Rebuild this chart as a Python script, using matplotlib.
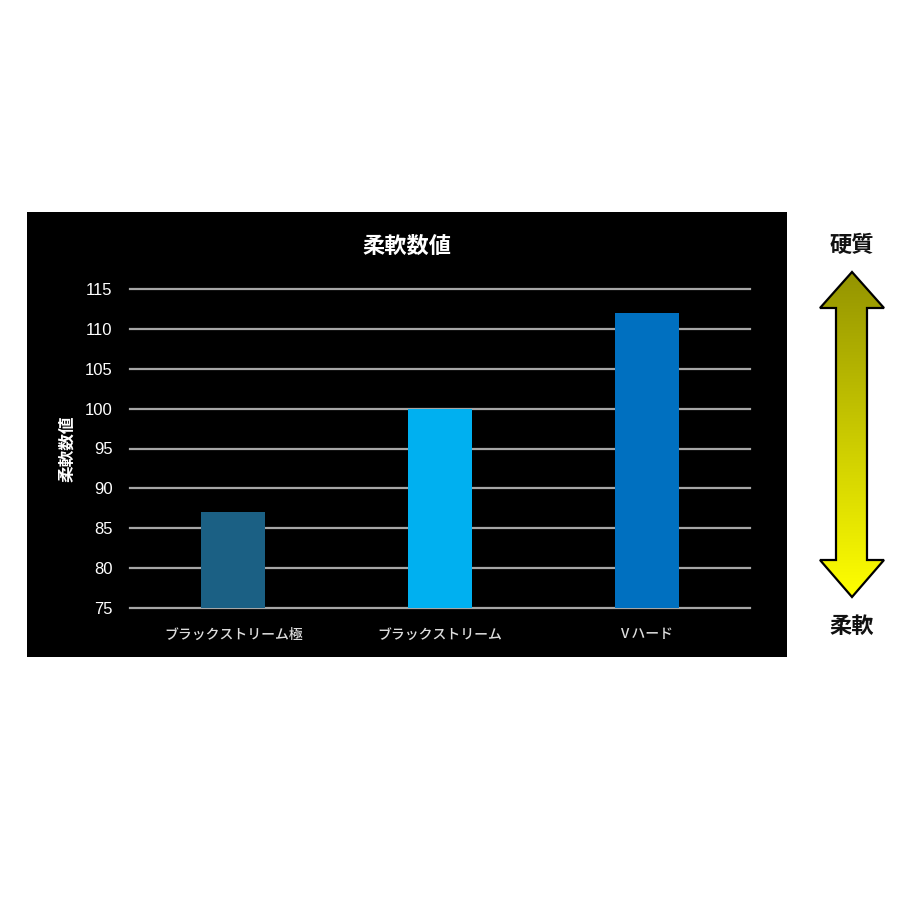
import matplotlib
matplotlib.use('agg')
import matplotlib.pyplot as plt
from matplotlib.patches import Rectangle, Polygon
import numpy as np

plt.rcParams['font.family'] = ['Noto Sans CJK JP', 'DejaVu Sans']

# data
categories = ['ブラックストリーム極', 'ブラックストリーム', 'V ハード']
values = [87, 100, 112]
bar_colors = ['#1b6084', '#00b0f0', '#0070c0']
y_ticks = [75, 80, 85, 90, 95, 100, 105, 110, 115]
title = '柔軟数値'
arrow_top_label = '硬質'
arrow_bottom_label = '柔軟'

fig = plt.figure(figsize=(9, 9), dpi=100)
fig.patch.set_facecolor('white')

# overlay in pixel coords for the black panel and the arrow
ov = fig.add_axes([0, 0, 1, 1])
ov.set_xlim(0, 900)
ov.set_ylim(900, 0)
ov.axis('off')
ov.add_patch(Rectangle((27, 212), 760, 445, facecolor='black', edgecolor='none'))

# double arrow with olive -> yellow gradient
pts = [(852, 272), (884, 308), (867, 308), (867, 560), (884, 560),
       (852, 597), (820, 560), (836, 560), (836, 308), (820, 308)]
arrow = Polygon(pts, closed=True, facecolor='none', edgecolor='black', linewidth=1.6, zorder=3)
ov.add_patch(arrow)
grad = np.linspace(0, 1, 256).reshape(-1, 1)
c_top = np.array([0.58, 0.58, 0.0])
c_bot = np.array([1.0, 1.0, 0.0])
img = c_top + (c_bot - c_top) * grad[:, :, None]
im = ov.imshow(img, extent=(820, 884, 597, 272), aspect='auto', zorder=2, interpolation='bilinear')
clip = Polygon(pts, closed=True, transform=ov.transData)
im.set_clip_path(clip)
ov.set_xlim(0, 900)
ov.set_ylim(900, 0)
ov.text(852, 245, arrow_top_label, ha='center', va='center', fontsize=16, fontweight='bold', color='#111111')
ov.text(852, 626, arrow_bottom_label, ha='center', va='center', fontsize=16, fontweight='bold', color='#111111')
ov.text(407, 246, title, ha='center', va='center', fontsize=16, fontweight='bold', color='white')

# main bar chart
ax = fig.add_axes([130/900, (900-608)/900, 620/900, (608-289)/900])
ax.set_facecolor('none')
x = np.arange(len(categories))
ax.bar(x, values, width=0.31, color=bar_colors, zorder=3)
ax.set_ylim(75, 115)
ax.set_xlim(-0.5, 2.5)
ax.set_yticks(y_ticks)
ax.set_yticklabels([str(v) for v in y_ticks], family=['Liberation Sans'], fontsize=12, color='white')
ax.set_xticks(x)
ax.set_xticklabels(categories, fontsize=10, fontweight='medium', color='#dddddd')
ax.tick_params(axis='y', length=0, pad=12.5)
ax.tick_params(axis='x', length=0, pad=14)
for yv in y_ticks:
    ax.axhline(yv, color='#a6a6a6', linewidth=1.6, zorder=1, clip_on=False)
for s in ax.spines.values():
    s.set_visible(False)
ax.set_ylabel(title, fontsize=12, fontweight='bold', color='white', labelpad=6)

fig.savefig('out.png', dpi=100, facecolor='white')
